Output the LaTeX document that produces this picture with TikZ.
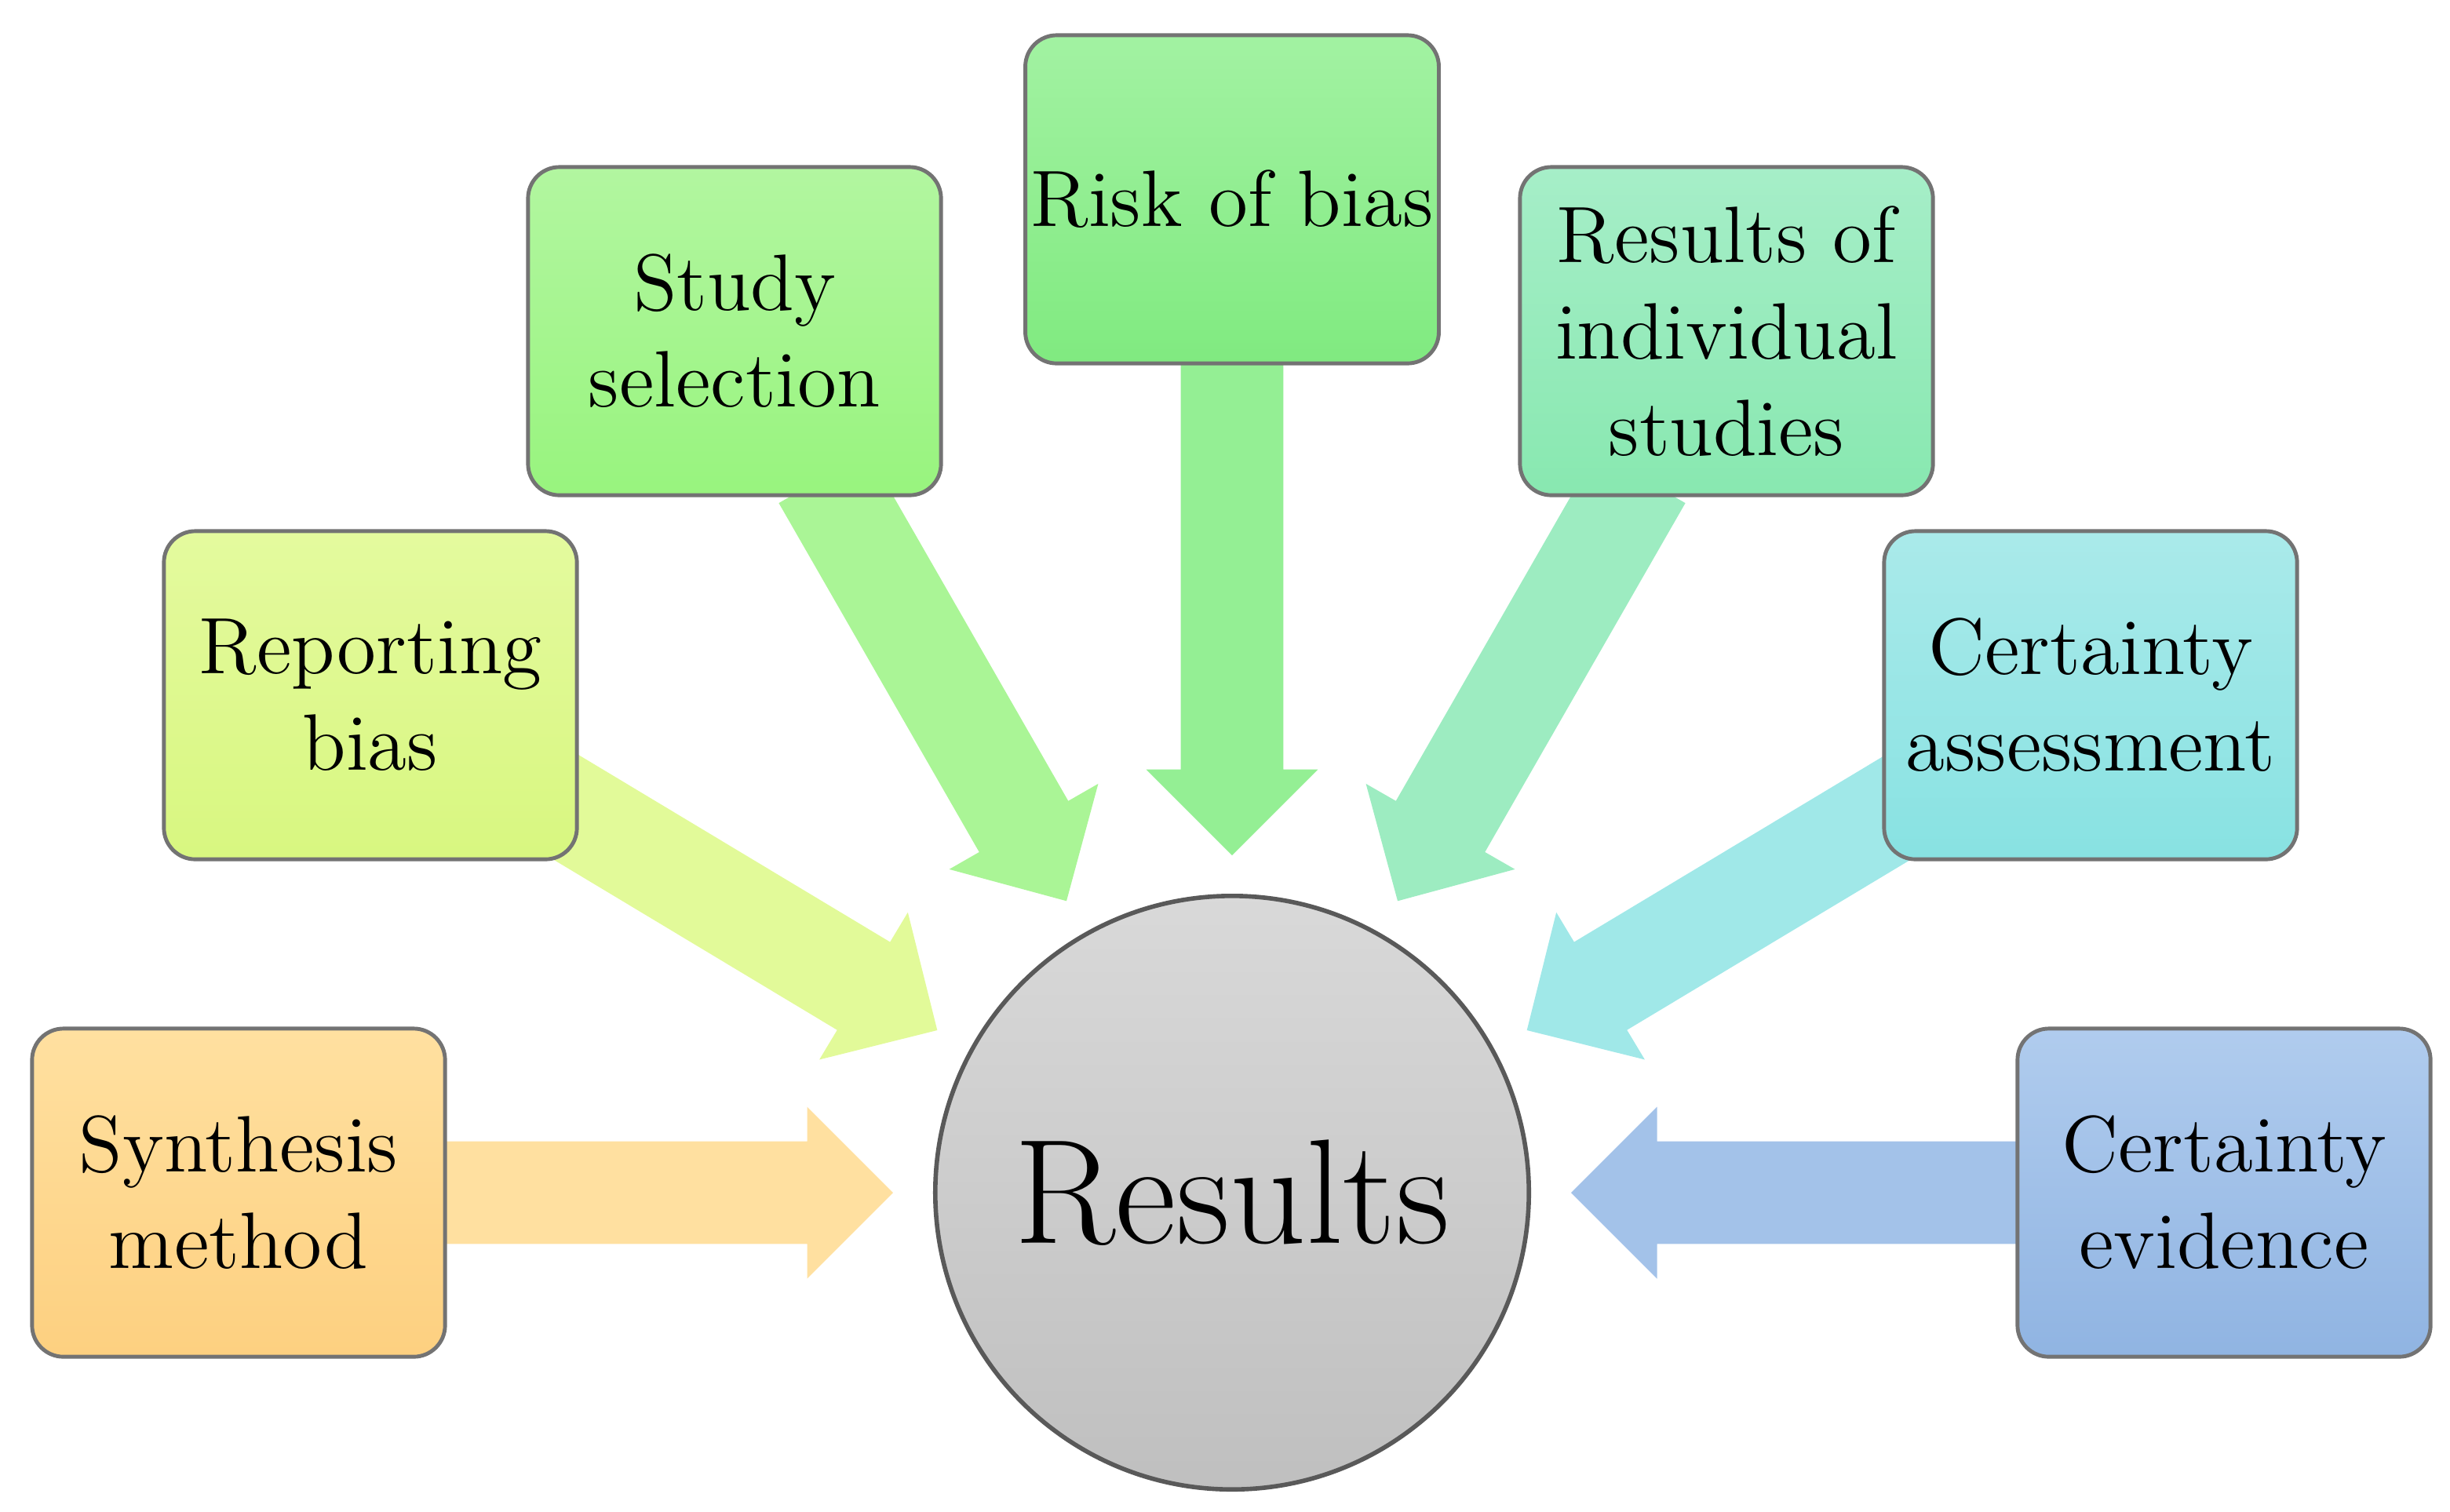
\documentclass[tikz,border=0pt]{standalone}
\usetikzlibrary{shapes.arrows,calc,shadows}
\definecolor{cSy}{HTML}{FDD080}\definecolor{cSyT}{HTML}{FFE0A0}
\definecolor{cRe}{HTML}{D8F780}\definecolor{cReT}{HTML}{E4FA9E}
\definecolor{cSt}{HTML}{98F47E}\definecolor{cStT}{HTML}{B2F6A0}
\definecolor{cRi}{HTML}{80EA80}\definecolor{cRiT}{HTML}{A2F2A2}
\definecolor{cRs}{HTML}{88E8B0}\definecolor{cRsT}{HTML}{A6EEC8}
\definecolor{cCa}{HTML}{88E2E2}\definecolor{cCaT}{HTML}{AAEAEA}
\definecolor{cCe}{HTML}{90B4E2}\definecolor{cCeT}{HTML}{B0CCEE}
\tikzset{
 box/.style n args={2}{draw=black!55,line width=0.7pt,rounded corners=0.2cm,minimum width=2.63cm,minimum height=2.09cm,align=center,top color=#2,bottom color=#1,font=\fontsize{14.5}{17.5}\selectfont,inner sep=1pt},
 blk/.style={single arrow,inner xsep=0pt,inner ysep=0.32cm,single arrow head extend=0.22cm,single arrow tip angle=90,draw=none,fill=#1},
}
\newcommand{\blockarrow}[4]{% name, start, tip, color
 \path let \p1=($(#3)-(#2)$),\n1={veclen(\x1,\y1)},\n2={atan2(\y1,\x1)} in
  node[blk=#4,minimum height=\n1,rotate=\n2,anchor=tip] (#1) at (#3) {};}
\begin{document}
\begin{tikzpicture}[x=0.01cm,y=-0.01cm]
\useasboundingbox (0,0) rectangle (1561,963);
\coordinate (s1) at (270,760); \coordinate (t1) at (570,760);
\coordinate (s2) at (350,508); \coordinate (t2) at (598,657);
\coordinate (s3) at (525,305); \coordinate (t3) at (680,575);
\coordinate (s4) at (785,220); \coordinate (t4) at (785,546);
\coordinate (s5) at (1045,305); \coordinate (t5) at (890,575);
\coordinate (s6) at (1220,508); \coordinate (t6) at (972,657);
\coordinate (s7) at (1300,760); \coordinate (t7) at (1000,760);
\blockarrow{a1}{s1}{t1}{cSyT}
\blockarrow{a2}{s2}{t2}{cReT!85!cRe}
\blockarrow{a3}{s3}{t3}{cStT!70!cSt}
\blockarrow{a4}{s4}{t4}{cRiT!60!cRi}
\blockarrow{a5}{s5}{t5}{cRsT!70!cRs}
\blockarrow{a6}{s6}{t6}{cCaT!70!cCa}
\blockarrow{a7}{s7}{t7}{cCeT!60!cCe}
\node[box={cSy}{cSyT}] (b1) at (152,760) {Synthesis\\method};
\node[box={cRe}{cReT}] (b2) at (236,443) {Reporting\\bias};
\node[box={cSt}{cStT}] (b3) at (468,211) {Study\\selection};
\node[box={cRi}{cRiT}] (b4) at (785,127) {Risk of bias};
\node[box={cRs}{cRsT}] (b5) at (1100,211) {Results of\\individual\\studies};
\node[box={cCa}{cCaT}] (b6) at (1332,443) {Certainty\\assessment};
\node[box={cCe}{cCeT}] (b7) at (1417,760) {Certainty\\evidence};
\node[circle,draw=black!65,line width=0.8pt,minimum size=3.78cm,top color=black!15,bottom color=black!25,font=\fontsize{27}{32}\selectfont] (c) at (785,760) {Results};
\end{tikzpicture}
\end{document}
